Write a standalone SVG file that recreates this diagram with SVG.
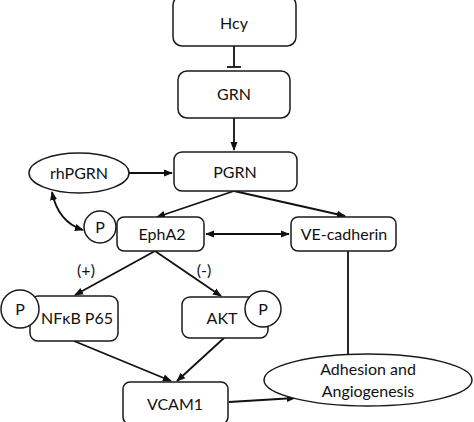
<svg xmlns="http://www.w3.org/2000/svg" width="474" height="422" viewBox="0 0 474 422">
<defs>
<style>
.box{fill:#fff;stroke:#1a1a1a;stroke-width:1.5}
.t{font-family:Lato,"Open Sans",sans-serif;font-size:16px;fill:#111;text-anchor:middle}
.c{fill:none;stroke:#111;stroke-width:1.8}
</style>
<marker id="ah" viewBox="0 0 10 10" refX="9" refY="5" markerWidth="5" markerHeight="5" orient="auto-start-reverse">
<path d="M0,1 L10,5 L0,9 z" fill="#111"/>
</marker>
</defs>
<rect width="474" height="422" fill="#fff"/>
<g id="connectors">
<line class="c" x1="234" y1="46" x2="234" y2="67"/>
<line class="c" x1="227" y1="67" x2="241" y2="67"/>
<line class="c" x1="234" y1="118" x2="234" y2="150" marker-end="url(#ah)"/>
<line class="c" x1="129" y1="173" x2="172" y2="173" marker-end="url(#ah)"/>
<path class="c" d="M52,192 Q58,222 83,230" marker-start="url(#ah)" marker-end="url(#ah)"/>
<line class="c" x1="234" y1="191" x2="157" y2="217" marker-end="url(#ah)"/>
<line class="c" x1="234" y1="191" x2="345" y2="216" marker-end="url(#ah)"/>
<line class="c" x1="206" y1="234" x2="289" y2="234" marker-start="url(#ah)" marker-end="url(#ah)"/>
<line class="c" x1="348" y1="251" x2="348" y2="354"/>
<line class="c" x1="155" y1="251" x2="75" y2="295" marker-end="url(#ah)"/>
<line class="c" x1="155" y1="251" x2="221" y2="296" marker-end="url(#ah)"/>
<line class="c" x1="74" y1="341" x2="171" y2="381" marker-end="url(#ah)"/>
<line class="c" x1="224" y1="338" x2="177" y2="381" marker-end="url(#ah)"/>
<line class="c" x1="229" y1="402" x2="295" y2="398" marker-end="url(#ah)"/>
<text class="t" x="86" y="276">(+)</text>
<text class="t" x="204" y="276">(-)</text>
</g>
<g id="hcy"><rect class="box" x="173" y="-4" width="123" height="50" rx="9"/><text class="t" x="234" y="29">Hcy</text></g>
<g id="grn"><rect class="box" x="178" y="71" width="112" height="47" rx="9"/><text class="t" x="234" y="100">GRN</text></g>
<g id="pgrn"><rect class="box" x="174" y="152" width="123" height="39" rx="8"/><text class="t" x="235" y="178">PGRN</text></g>
<g id="rhpgrn"><ellipse class="box" cx="79" cy="173" rx="50" ry="20"/><text class="t" x="79" y="179">rhPGRN</text></g>
<g id="epha2"><rect class="box" x="117" y="217" width="87" height="34" rx="7"/><circle class="box" cx="100" cy="227" r="16"/><text class="t" x="100" y="233">P</text><text class="t" x="162" y="240">EphA2</text></g>
<g id="vecadherin"><rect class="box" x="291" y="217" width="105" height="34" rx="7"/><text class="t" x="344" y="240">VE-cadherin</text></g>
<g id="nfkb"><rect class="box" x="30" y="296" width="88" height="45" rx="8"/><circle class="box" cx="20" cy="309" r="19"/><text class="t" x="20" y="315">P</text><text class="t" x="77" y="324">NFκB P65</text></g>
<g id="akt"><rect class="box" x="182" y="297" width="86" height="41" rx="8"/><circle class="box" cx="263" cy="309" r="18"/><text class="t" x="263" y="315">P</text><text class="t" x="222" y="324">AKT</text></g>
<g id="vcam1"><rect class="box" x="123" y="382" width="105" height="42" rx="7"/><text class="t" x="175" y="410">VCAM1</text></g>
<g id="adhesion"><ellipse class="box" cx="368" cy="380" rx="104" ry="26"/><text class="t" x="368" y="375">Adhesion and</text><text class="t" x="368" y="397">Angiogenesis</text></g>
</svg>
